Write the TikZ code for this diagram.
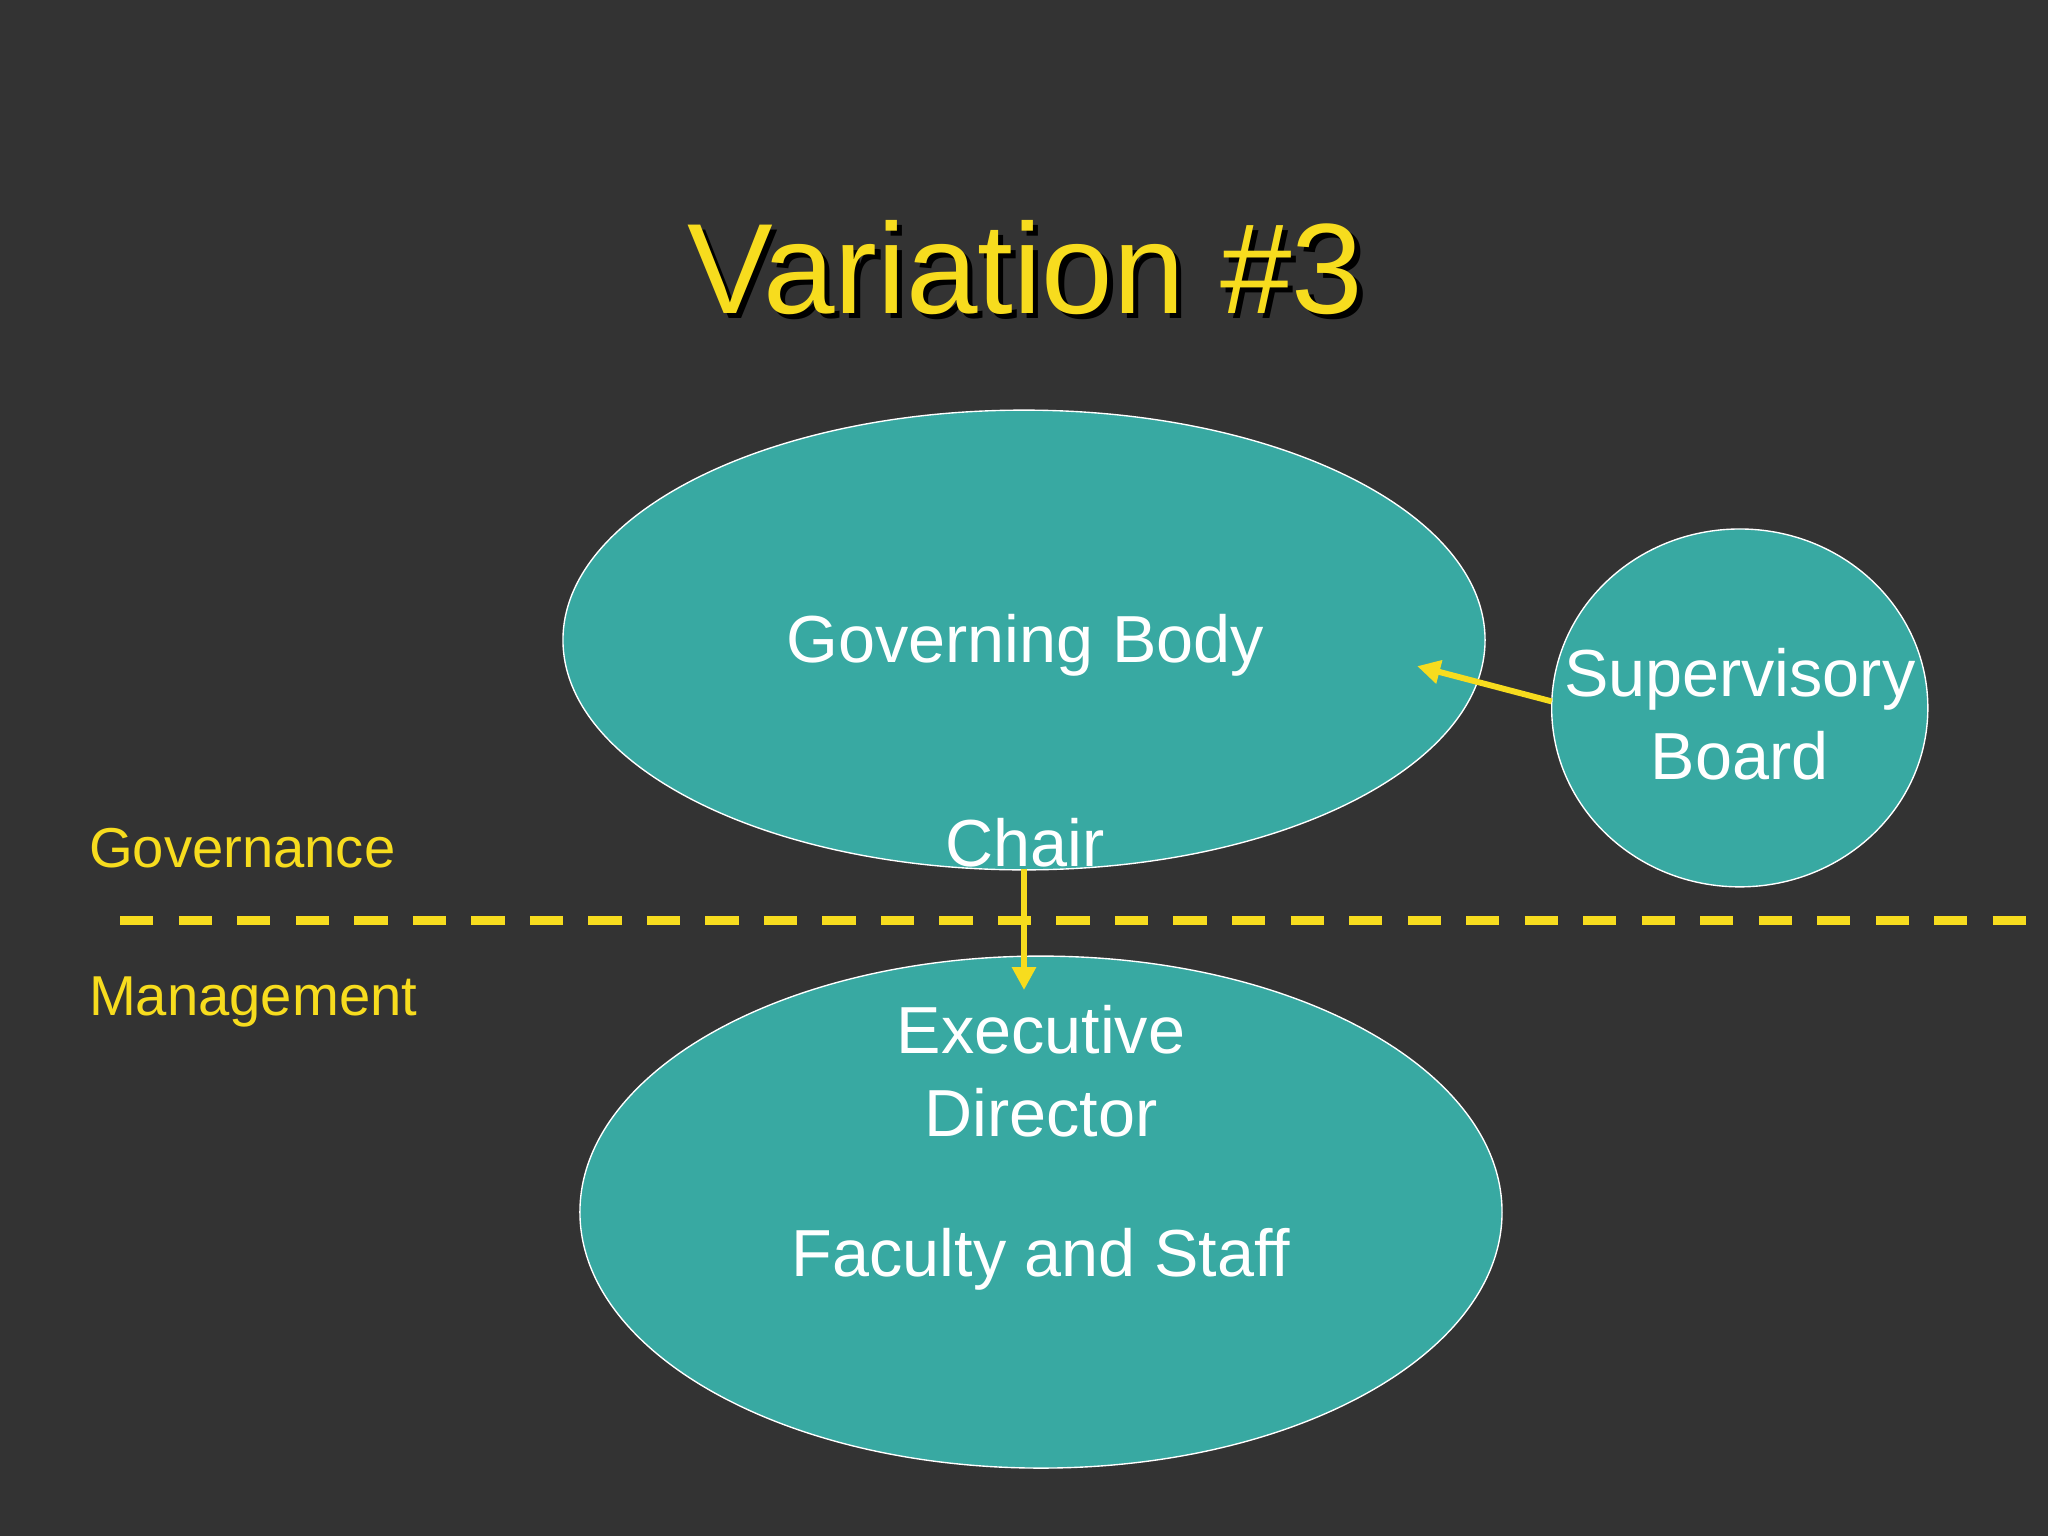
\documentclass[tikz,border=0pt]{standalone}
\usepackage{fontspec}
\setmainfont{Liberation Sans}
\usetikzlibrary{arrows.meta}
\definecolor{bg}{HTML}{333333}
\definecolor{teal1}{HTML}{38A9A2}
\definecolor{yel}{HTML}{F7DC1E}
\begin{document}
\begin{tikzpicture}[x=0.02cm,y=-0.02cm,
  blob/.style={draw=white,line width=0.6pt,fill=teal1},
  wtext/.style={text=white,font=\fontsize{29}{36}\selectfont,align=center},
  ltext/.style={text=yel,font=\fontsize{24.5}{28}\selectfont,anchor=west},
  yarrow/.style={draw=yel,line width=2.6pt,-{Triangle[length=10pt,width=10pt]}}]
\fill[bg] (0,0) rectangle (1568,1176);
\useasboundingbox (0,0) rectangle (1568,1176);
\node[text=black,font=\fontsize{56}{60}\selectfont] (shadow) at (789,209) {Variation \#3};
\node[text=yel,font=\fontsize{56}{60}\selectfont] (title) at (785,205) {Variation \#3};
\draw[blob] (784,490) ellipse [x radius=353,y radius=176];
\draw[blob] (1332,542) ellipse [x radius=144,y radius=137];
\draw[blob] (797,928) ellipse [x radius=353,y radius=196];
\node[wtext] (gb) at (785,494) {Governing Body};
\node[wtext] (chair) at (785,645) {Chair};
\node[wtext] (sb) at (1332,547) {Supervisory\\Board};
\node[wtext] (ed) at (797,820) {Executive\\Director};
\node[wtext] (fs) at (797,964) {Faculty and Staff};
\node[ltext] (gov) at (62,649) {Governance};
\node[ltext] (man) at (62,767) {Management};
\coordinate (d1) at (92,705);
\coordinate (d2) at (1568,705);
\draw[draw=yel,line width=4pt,dash pattern=on 14.5pt off 11pt] (d1) -- (d2);
\coordinate (a1) at (1188,537);
\coordinate (a2) at (1085,510);
\draw[yarrow] (a1) -- (a2);
\coordinate (b1) at (784,665);
\coordinate (b2) at (784,758);
\draw[yarrow] (b1) -- (b2);
\end{tikzpicture}
\end{document}
